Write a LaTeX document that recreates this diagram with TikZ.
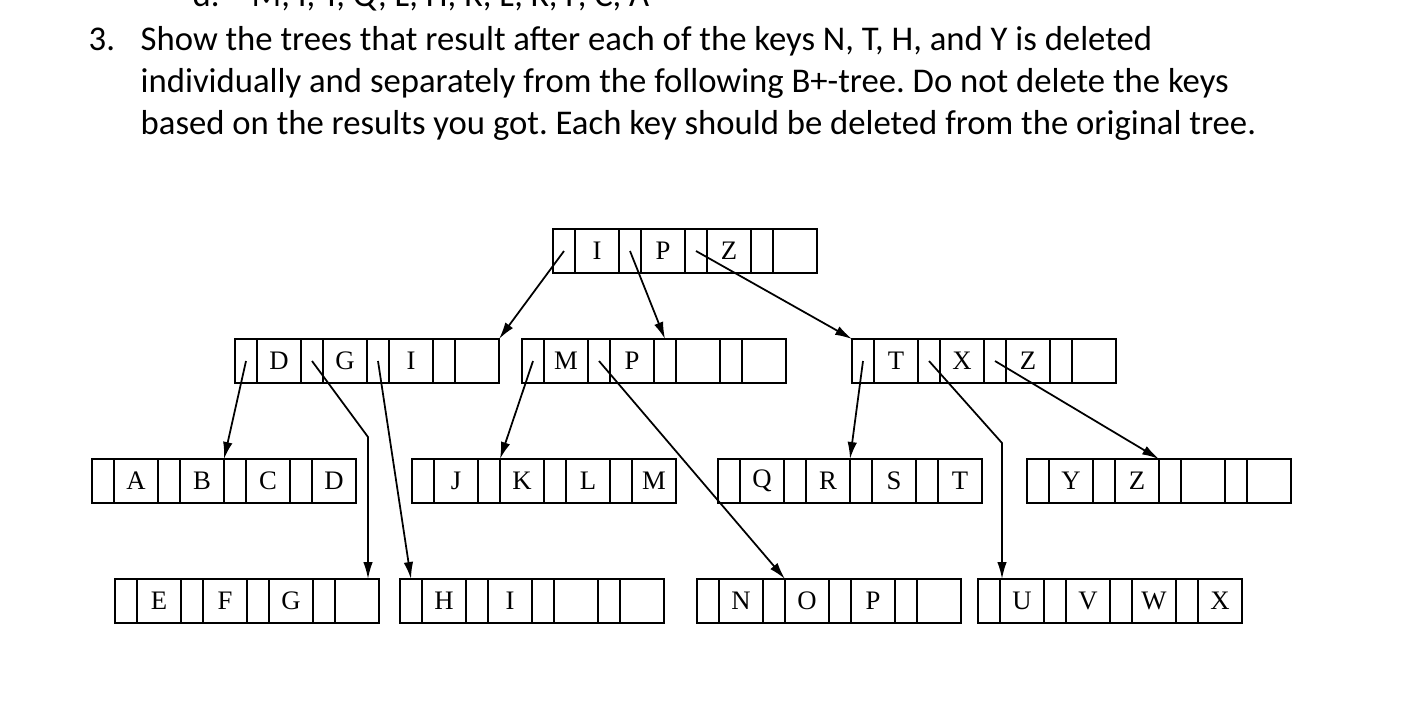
\documentclass[tikz,border=0pt]{standalone}
\usepackage{fontspec}
\setmainfont{Liberation Serif}
\newfontfamily\bodyfont{Carlito}
\usetikzlibrary{arrows.meta}
\frenchspacing

% one B+-tree record: name, left, top, four keys
\newcommand{\bprec}[7]{%
  \node [rec, anchor = north west] (#1) at (#2, #3) {};
  \begin{scope}[shift = {(#1.north west)}]
    \foreach \c in {0, ..., 3} {
      \draw [cell] (0.66*\c + 0.22, 0) -- ++(0, -0.44);
      \draw [cell] (0.66*\c + 0.66, 0) -- ++(0, -0.44);
      \coordinate (#1-p\c) at (0.66*\c + 0.11, -0.22);
      \coordinate (#1-t\c) at (0.66*\c + 0.11, 0);
      \coordinate (#1-w\c) at (0.66*\c + 0.22, 0);
      \coordinate (#1-e\c) at (0.66*\c + 0.66, 0);
    }
    \node [keylab] at (0.44, -0.22) {#4};
    \node [keylab] at (1.10, -0.22) {#5};
    \node [keylab] at (1.76, -0.22) {#6};
    \node [keylab] at (2.42, -0.22) {#7};
  \end{scope}}

\begin{document}
\begin{tikzpicture}[
    rec/.style = {draw, line width = 0.6pt, minimum width = 2.64cm, minimum height = 0.44cm, inner sep = 0pt, outer sep = 0pt},
    cell/.style = {line width = 0.6pt},
    keylab/.style = {font = \fontsize{7.6}{8}\selectfont, inner sep = 0pt},
    txt/.style = {anchor = base west, font = \bodyfont\fontsize{9.87}{12}\selectfont, inner sep = 0pt},
    ptr/.style = {->, line width = 0.5pt},
    > = {Latex[length = 1.7mm, width = 0.95mm]}]
  \useasboundingbox (0, 0) rectangle (14.12, -7.18);

  % question text
  \node [txt] (prev) at (1.92, -0.06) {d.\hspace{3.2mm}M, I, T, Q, L, H, R, L, K, F, C, A};
  \node [txt] (num) at (0.88, -0.50) {3.};
  \node [txt] (line1) at (1.40, -0.50) {Show the trees that result after each of the keys N, T, H, and Y is deleted};
  \node [txt] (line2) at (1.40, -0.92) {individually and separately from the following B+-tree. Do not delete the keys};
  \node [txt] (line3) at (1.40, -1.34) {based on the results you got. Each key should be deleted from the original tree.};

  % records
  \bprec{root}{5.53}{-2.29}{I}{P}{Z}{}
  \bprec{dgi}{2.35}{-3.39}{D}{G}{I}{}
  \bprec{mp}{5.22}{-3.39}{M}{P}{}{}
  \bprec{txz}{8.52}{-3.39}{T}{X}{Z}{}
  \bprec{abcd}{0.92}{-4.59}{A}{B}{C}{D}
  \bprec{jklm}{4.12}{-4.59}{J}{K}{L}{M}
  \bprec{qrst}{7.18}{-4.59}{Q}{R}{S}{T}
  \bprec{yz}{10.27}{-4.59}{Y}{Z}{}{}
  \bprec{efg}{1.15}{-5.79}{E}{F}{G}{}
  \bprec{hi}{4.00}{-5.79}{H}{I}{}{}
  \bprec{nop}{6.97}{-5.79}{N}{O}{P}{}
  \bprec{uvwx}{9.78}{-5.79}{U}{V}{W}{X}

  % pointers
  \draw [ptr] (root-p0) -- (dgi.north east);
  \draw [ptr] (root-p1) -- (mp-t2);
  \draw [ptr] (root-p2) -- (txz.north west);
  \draw [ptr] (dgi-p0) -- (abcd-e1);
  \coordinate (bendG) at (3.68, -4.37);
  \draw [ptr] (dgi-p1) -- (bendG) -- (bendG |- efg.north);
  \draw [ptr] (dgi-p2) -- (hi-t0);
  \draw [ptr] (mp-p0) -- (jklm-w1);
  \draw [ptr] (mp-p1) -- (nop-w1);
  \draw [ptr] (txz-p0) -- (qrst-e1);
  \coordinate (bendU) at (10.02, -4.43);
  \draw [ptr] (txz-p1) -- (bendU) -- (bendU |- uvwx.north);
  \draw [ptr] (txz-p2) -- (yz-e1);
\end{tikzpicture}
\end{document}
